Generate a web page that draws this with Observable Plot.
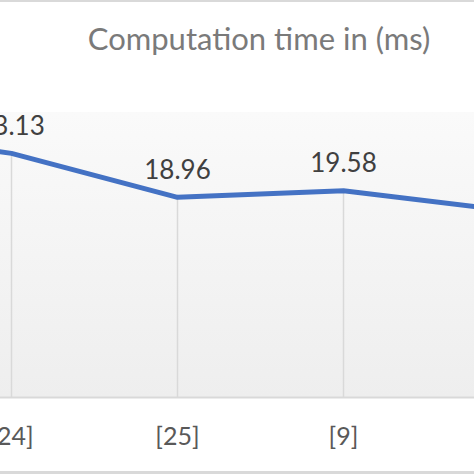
<!DOCTYPE html>
<html>
<head>
<meta charset="utf-8">
<script src="https://cdn.jsdelivr.net/npm/d3@7"></script>
<script src="https://cdn.jsdelivr.net/npm/@observablehq/plot@0.6"></script>
<style>
  html, body { margin: 0; padding: 0; background: white; }
  #wrap { position: relative; width: 474px; height: 474px; overflow: hidden; background: white; font-family: Lato, "Open Sans", sans-serif; }
  #bg { position: absolute; left: 0; top: 112px; width: 474px; height: 285px; background: linear-gradient(#fafafa, #eeeeee); }
  #topline { position: absolute; left: 0; top: 0; width: 474px; height: 2px; background: #d9d9d9; }
  #botline { position: absolute; left: 0; top: 471px; width: 474px; height: 3px; background: #d9d9d9; }
  #title { position: absolute; left: 0; top: 19px; width: 518px; text-align: center; font-size: 31px; color: #7a7a7a; white-space: nowrap; }
  #chart { position: absolute; left: 0; top: 0; }
  #chart svg { background: transparent; }
</style>
</head>
<body>
<div id="wrap">
  <div id="bg"></div>
  <div id="topline"></div>
  <div id="botline"></div>
  <div id="title">Computation time in (ms)</div>
  <div id="chart"></div>
</div>
<script>
// Categories (first and last are off the visible crop)
const categories = ["[prev]", "[24]", "[25]", "[9]", "[next]"];
// Computation time in ms
const values = [25.4, 23.13, 18.96, 19.58, 17.7];
// Which points show their data label (visible in the crop)
const labelled = [false, true, true, true, false];

const data = categories.map((c, i) => ({cat: c, value: values[i], show: labelled[i]}));

const plot = Plot.plot({
  width: 474,
  height: 474,
  marginTop: 112,
  marginBottom: 77,
  marginLeft: 0,
  marginRight: 0,
  style: {background: "transparent", fontFamily: "Lato, 'Open Sans', sans-serif", overflow: "hidden"},
  x: {type: "point", domain: categories, range: [-156.5, 509.5], padding: 0},
  y: {domain: [0, 27], axis: null},
  marks: [
    Plot.ruleX(data, {x: "cat", y1: 0, y2: "value", stroke: "#d9d9d9", strokeWidth: 1.5}),
    Plot.ruleY([0], {stroke: "#d9d9d9", strokeWidth: 2}),
    Plot.line(data, {x: "cat", y: "value", stroke: "#4472C4", strokeWidth: 5, strokeLinejoin: "round"}),
    Plot.text(data.filter(d => d.show), {x: "cat", y: "value", text: d => d.value.toFixed(2), dy: -27, fontSize: 26, fill: "#404040", textAnchor: "middle"}),
    Plot.axisX({tickSize: 0, tickPadding: 30, fontSize: 25, fill: "#595959", label: null})
  ]
});
document.getElementById("chart").appendChild(plot);
</script>
</body>
</html>
